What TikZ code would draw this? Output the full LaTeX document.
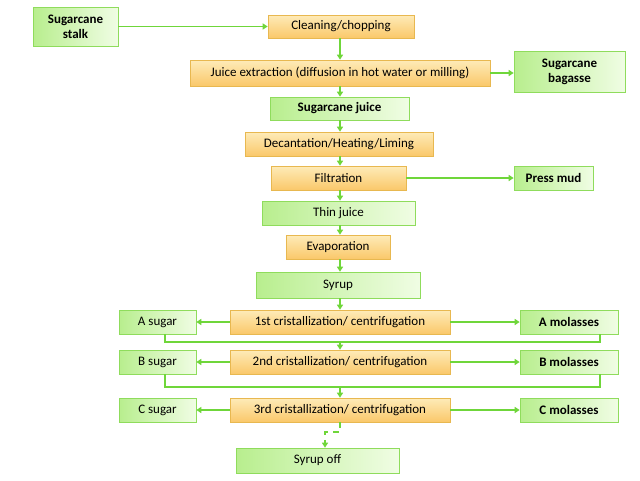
\documentclass[tikz,border=0pt]{standalone}
\usepackage{fontspec}
\setmainfont{Carlito}
\usetikzlibrary{arrows.meta,shadows}
\definecolor{gb}{HTML}{8FDC5C}
\definecolor{gl}{HTML}{F0FDE4}
\definecolor{gd}{HTML}{B8EE8E}
\definecolor{ob}{HTML}{E8B850}
\definecolor{ol}{HTML}{FEEBB8}
\definecolor{od}{HTML}{FAC86A}
\definecolor{ar}{HTML}{6FD63A}
\begin{document}
\begin{tikzpicture}[x=1pt,y=-1pt,
  box/.style={draw, line width=0.6pt, inner sep=0pt, align=center, font=\fontsize{13}{15}\selectfont,
     drop shadow={shadow xshift=1.2pt,shadow yshift=-1.2pt,opacity=0.25}},
  g/.style={box, draw=gb, left color=gd, right color=gl},
  o/.style={box, draw=ob, top color=ol, bottom color=od},
  B/.style={font=\fontsize{13}{15}\selectfont\bfseries},
  arr/.style={draw=ar, line width=1.3pt, -{Triangle[length=5pt,width=6pt]}},
  ln/.style={draw=ar, line width=1.3pt}]
\fill[white] (0,0) rectangle (640,480);
\def\bx#1#2#3#4#5#6#7{\node[#2,minimum width=#5-#3, minimum height=#6-#4] (#1) at ({(#3+#5)/2},{(#4+#6)/2}) {#7};}
\bx{stalk}{g,B}{33}{7}{118}{46}{Sugarcane\\stalk}
\bx{clean}{o}{268}{15}{414}{38}{Cleaning/chopping}
\bx{ext}{o}{190}{60}{490}{86}{Juice extraction (diffusion in hot water or milling)}
\bx{bag}{g,B}{514}{51}{625}{92}{Sugarcane\\bagasse}
\bx{juice}{g,B}{270}{97}{409}{120}{Sugarcane juice}
\bx{dec}{o}{245}{132}{433}{156}{Decantation/Heating/Liming}
\bx{fil}{o}{271}{166}{406}{190}{Filtration}
\bx{mud}{g,B}{514}{166}{593}{190}{Press mud}
\bx{thin}{g}{262}{201}{415}{225}{Thin juice}
\bx{eva}{o}{286}{235}{390}{259}{Evaporation}
\bx{syr}{g}{256}{272}{420}{298}{Syrup}
\bx{as}{g}{119}{310}{196}{334}{A sugar}
\bx{c1}{o}{230}{310}{450}{334}{1st cristallization/ centrifugation}
\bx{am}{g,B}{520}{310}{618}{334}{A molasses}
\bx{bs}{g}{119}{350}{196}{374}{B sugar}
\bx{c2}{o}{230}{350}{450}{374}{2nd cristallization/ centrifugation}
\bx{bm}{g,B}{520}{350}{618}{374}{B molasses}
\bx{cs}{g}{119}{398}{196}{422}{C sugar}
\bx{c3}{o}{230}{398}{450}{422}{3rd cristallization/ centrifugation}
\bx{cm}{g,B}{520}{398}{618}{422}{C molasses}
\bx{off}{g}{236}{448}{399}{473}{Syrup off}
\draw[arr] (stalk) -- (stalk -| clean.west);
\draw[arr] (clean.south -| 340,0) -- (ext.north -| 340,0);
\draw[arr] (ext) -- (bag.west |- ext);
\draw[arr] (ext.south -| 340,0) -- (juice.north -| 340,0);
\draw[arr] (juice.south -| 340,0) -- (dec.north -| 340,0);
\draw[arr] (dec.south -| 340,0) -- (fil.north -| 340,0);
\draw[arr] (fil) -- (mud);
\draw[arr] (fil.south -| 340,0) -- (thin.north -| 340,0);
\draw[arr] (thin.south -| 340,0) -- (eva.north -| 340,0);
\draw[arr] (eva.south -| 340,0) -- (syr.north -| 340,0);
\draw[arr] (syr.south -| 340,0) -- (c1.north -| 340,0);
\draw[arr] (c1) -- (as);
\draw[arr] (c1) -- (am);
\draw[arr] (c2) -- (bs);
\draw[arr] (c2) -- (bm);
\draw[arr] (c3) -- (cs);
\draw[arr] (c3) -- (cm);
\draw[ln] (as.south -| 165,0) -- (165,342) -- (600,342) -- (am.south -| 600,0);
\draw[arr] (340,342) -- (c2.north -| 340,0);
\draw[ln] (bs.south -| 165,0) -- (165,387) -- (600,387) -- (bm.south -| 600,0);
\draw[arr] (340,387) -- (c3.north -| 340,0);
\draw[arr, dash pattern=on 6pt off 5pt] (c3.south -| 340,0) -- (340,432) -- (325,432) -- (off.north -| 325,0);
\end{tikzpicture}
\end{document}
